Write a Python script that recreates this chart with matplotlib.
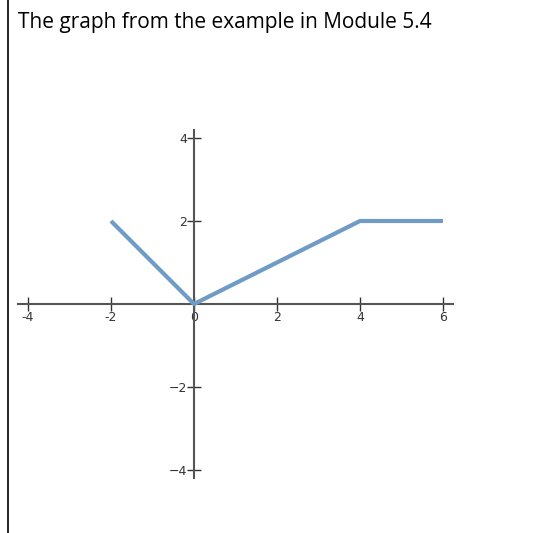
import matplotlib
matplotlib.use("Agg")
import matplotlib.pyplot as plt
from matplotlib.lines import Line2D

title = "The graph from the example in Module 5.4"
xs = [-2, 0, 4, 6]
ys = [2, 0, 2, 2]
xticks = [-4, -2, 0, 2, 4, 6]
yticks = [-4, -2, 2, 4]

fig = plt.figure(figsize=(5.57, 5.33), dpi=100)
ax = fig.add_axes([0, 0, 1, 1])
s = 41.5
ax.set_xlim(-194 / s, (557 - 194) / s)
ax.set_ylim(-(533 - 304) / s, 304 / s)
ax.plot(xs, ys, color="#6f9bc4", lw=3, solid_capstyle="butt", zorder=3)

for sp in ["top", "right"]:
    ax.spines[sp].set_visible(False)
ax.spines["bottom"].set_position(("data", 0))
ax.spines["left"].set_position(("data", 0))
ax.spines["bottom"].set_bounds(-4.25, 6.25)
ax.spines["left"].set_bounds(-4.2, 4.2)
for sp in ["bottom", "left"]:
    ax.spines[sp].set_color("#555555")
    ax.spines[sp].set_linewidth(1.5)
ax.set_xticks(xticks)
ax.set_yticks(yticks)
ax.set_xticklabels([str(t) for t in xticks])
ax.tick_params(axis="both", direction="inout", length=10, width=1, color="#333333",
               labelsize=9, labelcolor="#333333", pad=0)

fig.text(18 / 557, 1 - 22 / 533, title, fontsize=15, family="Open Sans", va="center", ha="left")
fig.add_artist(Line2D([8 / 557, 8 / 557], [0, 1], color="black", lw=1.2, transform=fig.transFigure))
fig.savefig("out.png", dpi=100)
